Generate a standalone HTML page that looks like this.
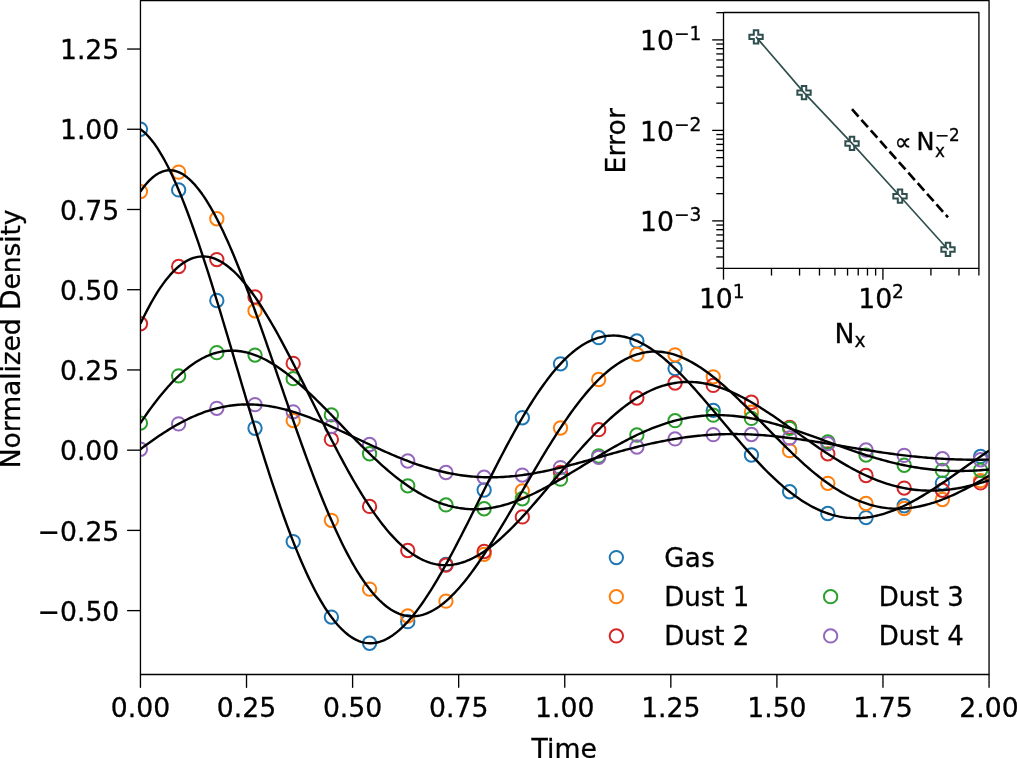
<!DOCTYPE html>
<html><head><meta charset="utf-8"><title>Normalized Density vs Time</title>
<style>html,body{margin:0;padding:0;background:#fff;}svg{display:block;}</style></head>
<body>
<svg width="1017" height="758" viewBox="0 0 1017 758" font-family="DejaVu Sans, Liberation Sans, sans-serif" font-size="26.67px" fill="#000" stroke="#000" stroke-width="0.3" stroke-linejoin="round">
<rect width="1017" height="758" fill="#fff" stroke="none"/>
<defs><clipPath id="ca"><rect x="140.45" y="0.6" width="848.5999999999999" height="673.9"/></clipPath></defs>
<g clip-path="url(#ca)" fill="none" stroke-width="2">
<g stroke="#1f77b4">
<circle cx="140.45" cy="129.26" r="6.67"/>
<circle cx="178.64" cy="189.95" r="6.67"/>
<circle cx="216.82" cy="300.48" r="6.67"/>
<circle cx="255.01" cy="428.22" r="6.67"/>
<circle cx="293.20" cy="541.60" r="6.67"/>
<circle cx="331.38" cy="617.06" r="6.67"/>
<circle cx="369.57" cy="643.24" r="6.67"/>
<circle cx="407.76" cy="621.67" r="6.67"/>
<circle cx="445.95" cy="564.46" r="6.67"/>
<circle cx="484.13" cy="489.98" r="6.67"/>
<circle cx="522.32" cy="417.76" r="6.67"/>
<circle cx="560.51" cy="363.82" r="6.67"/>
<circle cx="598.69" cy="337.64" r="6.67"/>
<circle cx="636.88" cy="340.94" r="6.67"/>
<circle cx="675.07" cy="368.52" r="6.67"/>
<circle cx="713.25" cy="410.45" r="6.67"/>
<circle cx="751.44" cy="455.03" r="6.67"/>
<circle cx="789.63" cy="491.76" r="6.67"/>
<circle cx="827.82" cy="513.49" r="6.67"/>
<circle cx="866.00" cy="517.57" r="6.67"/>
<circle cx="904.19" cy="505.74" r="6.67"/>
<circle cx="942.38" cy="483.10" r="6.67"/>
<circle cx="980.56" cy="456.41" r="6.67"/>
</g>
<g stroke="#ff7f0e">
<circle cx="140.45" cy="191.55" r="6.67"/>
<circle cx="178.64" cy="172.13" r="6.67"/>
<circle cx="216.82" cy="218.72" r="6.67"/>
<circle cx="255.01" cy="310.75" r="6.67"/>
<circle cx="293.20" cy="420.47" r="6.67"/>
<circle cx="331.38" cy="520.31" r="6.67"/>
<circle cx="369.57" cy="589.12" r="6.67"/>
<circle cx="407.76" cy="615.99" r="6.67"/>
<circle cx="445.95" cy="601.18" r="6.67"/>
<circle cx="484.13" cy="554.36" r="6.67"/>
<circle cx="522.32" cy="490.99" r="6.67"/>
<circle cx="560.51" cy="427.96" r="6.67"/>
<circle cx="598.69" cy="379.51" r="6.67"/>
<circle cx="636.88" cy="354.43" r="6.67"/>
<circle cx="675.07" cy="354.86" r="6.67"/>
<circle cx="713.25" cy="376.84" r="6.67"/>
<circle cx="751.44" cy="412.13" r="6.67"/>
<circle cx="789.63" cy="450.70" r="6.67"/>
<circle cx="827.82" cy="483.31" r="6.67"/>
<circle cx="866.00" cy="503.46" r="6.67"/>
<circle cx="904.19" cy="508.48" r="6.67"/>
<circle cx="942.38" cy="499.50" r="6.67"/>
<circle cx="980.56" cy="480.70" r="6.67"/>
</g>
<g stroke="#d62728">
<circle cx="140.45" cy="323.78" r="6.67"/>
<circle cx="178.64" cy="266.52" r="6.67"/>
<circle cx="216.82" cy="259.59" r="6.67"/>
<circle cx="255.01" cy="296.93" r="6.67"/>
<circle cx="293.20" cy="363.38" r="6.67"/>
<circle cx="331.38" cy="439.45" r="6.67"/>
<circle cx="369.57" cy="506.43" r="6.67"/>
<circle cx="407.76" cy="550.51" r="6.67"/>
<circle cx="445.95" cy="565.15" r="6.67"/>
<circle cx="484.13" cy="551.49" r="6.67"/>
<circle cx="522.32" cy="516.92" r="6.67"/>
<circle cx="560.51" cy="472.44" r="6.67"/>
<circle cx="598.69" cy="429.65" r="6.67"/>
<circle cx="636.88" cy="397.99" r="6.67"/>
<circle cx="675.07" cy="382.96" r="6.67"/>
<circle cx="713.25" cy="385.45" r="6.67"/>
<circle cx="751.44" cy="402.24" r="6.67"/>
<circle cx="789.63" cy="427.36" r="6.67"/>
<circle cx="827.82" cy="453.85" r="6.67"/>
<circle cx="866.00" cy="475.49" r="6.67"/>
<circle cx="904.19" cy="488.11" r="6.67"/>
<circle cx="942.38" cy="490.22" r="6.67"/>
<circle cx="980.56" cy="482.91" r="6.67"/>
</g>
<g stroke="#2ca02c">
<circle cx="140.45" cy="423.07" r="6.67"/>
<circle cx="178.64" cy="375.84" r="6.67"/>
<circle cx="216.82" cy="352.63" r="6.67"/>
<circle cx="255.01" cy="355.05" r="6.67"/>
<circle cx="293.20" cy="378.68" r="6.67"/>
<circle cx="331.38" cy="414.95" r="6.67"/>
<circle cx="369.57" cy="453.72" r="6.67"/>
<circle cx="407.76" cy="485.80" r="6.67"/>
<circle cx="445.95" cy="504.95" r="6.67"/>
<circle cx="484.13" cy="508.77" r="6.67"/>
<circle cx="522.32" cy="498.72" r="6.67"/>
<circle cx="560.51" cy="479.18" r="6.67"/>
<circle cx="598.69" cy="456.01" r="6.67"/>
<circle cx="636.88" cy="435.03" r="6.67"/>
<circle cx="675.07" cy="420.66" r="6.67"/>
<circle cx="713.25" cy="415.16" r="6.67"/>
<circle cx="751.44" cy="418.43" r="6.67"/>
<circle cx="789.63" cy="428.41" r="6.67"/>
<circle cx="827.82" cy="441.81" r="6.67"/>
<circle cx="866.00" cy="455.07" r="6.67"/>
<circle cx="904.19" cy="465.22" r="6.67"/>
<circle cx="942.38" cy="470.41" r="6.67"/>
<circle cx="980.56" cy="470.23" r="6.67"/>
</g>
<g stroke="#9467bd">
<circle cx="140.45" cy="449.23" r="6.67"/>
<circle cx="178.64" cy="423.88" r="6.67"/>
<circle cx="216.82" cy="408.33" r="6.67"/>
<circle cx="255.01" cy="404.63" r="6.67"/>
<circle cx="293.20" cy="411.81" r="6.67"/>
<circle cx="331.38" cy="426.61" r="6.67"/>
<circle cx="369.57" cy="444.51" r="6.67"/>
<circle cx="407.76" cy="460.98" r="6.67"/>
<circle cx="445.95" cy="472.51" r="6.67"/>
<circle cx="484.13" cy="477.22" r="6.67"/>
<circle cx="522.32" cy="475.08" r="6.67"/>
<circle cx="560.51" cy="467.62" r="6.67"/>
<circle cx="598.69" cy="457.32" r="6.67"/>
<circle cx="636.88" cy="446.97" r="6.67"/>
<circle cx="675.07" cy="438.90" r="6.67"/>
<circle cx="713.25" cy="434.62" r="6.67"/>
<circle cx="751.44" cy="434.51" r="6.67"/>
<circle cx="789.63" cy="437.96" r="6.67"/>
<circle cx="827.82" cy="443.67" r="6.67"/>
<circle cx="866.00" cy="449.98" r="6.67"/>
<circle cx="904.19" cy="455.38" r="6.67"/>
<circle cx="942.38" cy="458.78" r="6.67"/>
<circle cx="980.56" cy="459.71" r="6.67"/>
</g>
</g>
<g clip-path="url(#ca)" fill="none" stroke="#000" stroke-width="2.4" stroke-linejoin="round">
<polyline points="140.45,129.26 142.57,130.84 144.69,132.66 146.81,134.70 148.94,136.96 151.06,139.45 153.18,142.16 155.30,145.07 157.42,148.20 159.54,151.53 161.66,155.06 163.79,158.79 165.91,162.71 168.03,166.81 170.15,171.10 172.27,175.56 174.39,180.19 176.52,184.99 178.64,189.95 180.76,195.07 182.88,200.34 185.00,205.75 187.12,211.30 189.24,216.99 191.37,222.80 193.49,228.74 195.61,234.79 197.73,240.95 199.85,247.22 201.97,253.59 204.09,260.06 206.22,266.61 208.34,273.24 210.46,279.95 212.58,286.73 214.70,293.58 216.82,300.48 218.95,307.44 221.07,314.44 223.19,321.48 225.31,328.56 227.43,335.67 229.55,342.81 231.67,349.96 233.80,357.12 235.92,364.29 238.04,371.46 240.16,378.63 242.28,385.79 244.40,392.93 246.52,400.05 248.65,407.14 250.77,414.21 252.89,421.23 255.01,428.22 257.13,435.16 259.25,442.05 261.38,448.88 263.50,455.65 265.62,462.36 267.74,468.99 269.86,475.55 271.98,482.03 274.10,488.43 276.23,494.74 278.35,500.96 280.47,507.08 282.59,513.10 284.71,519.02 286.83,524.83 288.95,530.54 291.08,536.12 293.20,541.60 295.32,546.95 297.44,552.17 299.56,557.28 301.68,562.25 303.81,567.09 305.93,571.80 308.05,576.37 310.17,580.80 312.29,585.09 314.41,589.24 316.53,593.24 318.66,597.09 320.78,600.80 322.90,604.36 325.02,607.76 327.14,611.02 329.26,614.12 331.38,617.06 333.51,619.85 335.63,622.49 337.75,624.96 339.87,627.28 341.99,629.44 344.11,631.45 346.24,633.29 348.36,634.98 350.48,636.51 352.60,637.88 354.72,639.09 356.84,640.15 358.96,641.05 361.09,641.80 363.21,642.39 365.33,642.83 367.45,643.11 369.57,643.24 371.69,643.23 373.81,643.06 375.94,642.75 378.06,642.29 380.18,641.69 382.30,640.94 384.42,640.06 386.54,639.03 388.67,637.87 390.79,636.58 392.91,635.15 395.03,633.59 397.15,631.91 399.27,630.10 401.39,628.17 403.52,626.12 405.64,623.95 407.76,621.67 409.88,619.27 412.00,616.77 414.12,614.16 416.24,611.45 418.37,608.64 420.49,605.73 422.61,602.73 424.73,599.63 426.85,596.45 428.97,593.19 431.10,589.85 433.22,586.42 435.34,582.93 437.46,579.36 439.58,575.73 441.70,572.03 443.82,568.27 445.95,564.46 448.07,560.59 450.19,556.67 452.31,552.70 454.43,548.69 456.55,544.65 458.67,540.56 460.80,536.44 462.92,532.30 465.04,528.13 467.16,523.93 469.28,519.72 471.40,515.49 473.53,511.25 475.65,507.00 477.77,502.75 479.89,498.49 482.01,494.23 484.13,489.98 486.25,485.74 488.38,481.51 490.50,477.29 492.62,473.09 494.74,468.91 496.86,464.76 498.98,460.63 501.10,456.53 503.23,452.46 505.35,448.43 507.47,444.43 509.59,440.48 511.71,436.57 513.83,432.71 515.96,428.89 518.08,425.13 520.20,421.41 522.32,417.76 524.44,414.16 526.56,410.63 528.68,407.15 530.81,403.74 532.93,400.40 535.05,397.13 537.17,393.92 539.29,390.79 541.41,387.74 543.53,384.75 545.66,381.85 547.78,379.03 549.90,376.28 552.02,373.62 554.14,371.05 556.26,368.55 558.39,366.14 560.51,363.82 562.63,361.59 564.75,359.44 566.87,357.39 568.99,355.42 571.11,353.55 573.24,351.77 575.36,350.07 577.48,348.48 579.60,346.97 581.72,345.56 583.84,344.24 585.96,343.02 588.09,341.89 590.21,340.85 592.33,339.91 594.45,339.06 596.57,338.30 598.69,337.64 600.82,337.07 602.94,336.59 605.06,336.20 607.18,335.91 609.30,335.71 611.42,335.59 613.54,335.57 615.67,335.64 617.79,335.79 619.91,336.03 622.03,336.35 624.15,336.76 626.27,337.26 628.39,337.83 630.52,338.49 632.64,339.23 634.76,340.05 636.88,340.94 639.00,341.91 641.12,342.96 643.25,344.08 645.37,345.27 647.49,346.53 649.61,347.86 651.73,349.26 653.85,350.72 655.97,352.24 658.10,353.83 660.22,355.48 662.34,357.18 664.46,358.94 666.58,360.76 668.70,362.62 670.83,364.54 672.95,366.51 675.07,368.52 677.19,370.58 679.31,372.68 681.43,374.83 683.55,377.01 685.68,379.22 687.80,381.47 689.92,383.76 692.04,386.07 694.16,388.42 696.28,390.79 698.40,393.18 700.53,395.60 702.65,398.03 704.77,400.49 706.89,402.96 709.01,405.44 711.13,407.94 713.25,410.45 715.38,412.96 717.50,415.48 719.62,418.00 721.74,420.53 723.86,423.06 725.98,425.58 728.11,428.10 730.23,430.61 732.35,433.12 734.47,435.62 736.59,438.10 738.71,440.57 740.83,443.03 742.96,445.47 745.08,447.89 747.20,450.29 749.32,452.67 751.44,455.03 753.56,457.36 755.68,459.66 757.81,461.94 759.93,464.19 762.05,466.40 764.17,468.58 766.29,470.73 768.41,472.84 770.54,474.92 772.66,476.96 774.78,478.96 776.90,480.92 779.02,482.83 781.14,484.71 783.26,486.54 785.39,488.32 787.51,490.06 789.63,491.76 791.75,493.40 793.87,495.00 795.99,496.55 798.12,498.05 800.24,499.50 802.36,500.90 804.48,502.24 806.60,503.54 808.72,504.78 810.84,505.96 812.97,507.09 815.09,508.17 817.21,509.20 819.33,510.17 821.45,511.08 823.57,511.94 825.69,512.74 827.82,513.49 829.94,514.18 832.06,514.82 834.18,515.40 836.30,515.93 838.42,516.40 840.55,516.81 842.67,517.17 844.79,517.47 846.91,517.72 849.03,517.92 851.15,518.06 853.27,518.15 855.40,518.18 857.52,518.16 859.64,518.09 861.76,517.97 863.88,517.79 866.00,517.57 868.12,517.29 870.25,516.97 872.37,516.60 874.49,516.18 876.61,515.71 878.73,515.20 880.85,514.64 882.97,514.03 885.10,513.39 887.22,512.70 889.34,511.96 891.46,511.19 893.58,510.38 895.70,509.52 897.83,508.63 899.95,507.70 902.07,506.74 904.19,505.74 906.31,504.71 908.43,503.64 910.55,502.55 912.68,501.42 914.80,500.26 916.92,499.08 919.04,497.87 921.16,496.63 923.28,495.37 925.40,494.08 927.53,492.77 929.65,491.44 931.77,490.10 933.89,488.73 936.01,487.34 938.13,485.94 940.26,484.53 942.38,483.10 944.50,481.66 946.62,480.20 948.74,478.74 950.86,477.27 952.98,475.79 955.11,474.30 957.23,472.81 959.35,471.32 961.47,469.82 963.59,468.32 965.71,466.82 967.83,465.33 969.96,463.83 972.08,462.34 974.20,460.85 976.32,459.36 978.44,457.88 980.56,456.41 982.69,454.95 984.81,453.50 986.93,452.06 989.05,450.63"/>
<polyline points="140.45,191.55 142.57,188.55 144.69,185.78 146.81,183.23 148.94,180.92 151.06,178.84 153.18,176.98 155.30,175.36 157.42,173.95 159.54,172.78 161.66,171.83 163.79,171.10 165.91,170.60 168.03,170.31 170.15,170.25 172.27,170.40 174.39,170.76 176.52,171.34 178.64,172.13 180.76,173.12 182.88,174.32 185.00,175.72 187.12,177.32 189.24,179.12 191.37,181.11 193.49,183.29 195.61,185.65 197.73,188.20 199.85,190.93 201.97,193.83 204.09,196.90 206.22,200.14 208.34,203.55 210.46,207.11 212.58,210.83 214.70,214.70 216.82,218.72 218.95,222.87 221.07,227.17 223.19,231.60 225.31,236.16 227.43,240.84 229.55,245.64 231.67,250.55 233.80,255.58 235.92,260.71 238.04,265.93 240.16,271.26 242.28,276.67 244.40,282.17 246.52,287.74 248.65,293.40 250.77,299.12 252.89,304.90 255.01,310.75 257.13,316.65 259.25,322.60 261.38,328.59 263.50,334.63 265.62,340.69 267.74,346.79 269.86,352.91 271.98,359.05 274.10,365.21 276.23,371.37 278.35,377.54 280.47,383.71 282.59,389.88 284.71,396.03 286.83,402.17 288.95,408.30 291.08,414.40 293.20,420.47 295.32,426.51 297.44,432.51 299.56,438.47 301.68,444.39 303.81,450.26 305.93,456.07 308.05,461.83 310.17,467.52 312.29,473.15 314.41,478.72 316.53,484.21 318.66,489.62 320.78,494.95 322.90,500.20 325.02,505.37 327.14,510.44 329.26,515.42 331.38,520.31 333.51,525.10 335.63,529.78 337.75,534.37 339.87,538.84 341.99,543.21 344.11,547.46 346.24,551.61 348.36,555.63 350.48,559.54 352.60,563.33 354.72,567.00 356.84,570.54 358.96,573.96 361.09,577.25 363.21,580.41 365.33,583.44 367.45,586.35 369.57,589.12 371.69,591.76 373.81,594.27 375.94,596.64 378.06,598.88 380.18,600.98 382.30,602.95 384.42,604.78 386.54,606.48 388.67,608.04 390.79,609.46 392.91,610.75 395.03,611.90 397.15,612.92 399.27,613.80 401.39,614.55 403.52,615.16 405.64,615.64 407.76,615.99 409.88,616.21 412.00,616.30 414.12,616.26 416.24,616.09 418.37,615.79 420.49,615.37 422.61,614.83 424.73,614.16 426.85,613.38 428.97,612.47 431.10,611.45 433.22,610.31 435.34,609.06 437.46,607.70 439.58,606.23 441.70,604.65 443.82,602.97 445.95,601.18 448.07,599.30 450.19,597.31 452.31,595.23 454.43,593.06 456.55,590.80 458.67,588.45 460.80,586.01 462.92,583.49 465.04,580.89 467.16,578.21 469.28,575.46 471.40,572.64 473.53,569.75 475.65,566.79 477.77,563.77 479.89,560.69 482.01,557.55 484.13,554.36 486.25,551.12 488.38,547.82 490.50,544.49 492.62,541.11 494.74,537.69 496.86,534.23 498.98,530.74 501.10,527.22 503.23,523.67 505.35,520.10 507.47,516.51 509.59,512.89 511.71,509.27 513.83,505.62 515.96,501.97 518.08,498.32 520.20,494.66 522.32,490.99 524.44,487.33 526.56,483.68 528.68,480.03 530.81,476.39 532.93,472.77 535.05,469.16 537.17,465.56 539.29,461.99 541.41,458.44 543.53,454.92 545.66,451.43 547.78,447.97 549.90,444.54 552.02,441.14 554.14,437.78 556.26,434.47 558.39,431.19 560.51,427.96 562.63,424.78 564.75,421.64 566.87,418.56 568.99,415.53 571.11,412.55 573.24,409.63 575.36,406.76 577.48,403.96 579.60,401.22 581.72,398.54 583.84,395.92 585.96,393.37 588.09,390.88 590.21,388.47 592.33,386.12 594.45,383.85 596.57,381.64 598.69,379.51 600.82,377.46 602.94,375.48 605.06,373.57 607.18,371.74 609.30,369.99 611.42,368.31 613.54,366.71 615.67,365.20 617.79,363.76 619.91,362.40 622.03,361.12 624.15,359.92 626.27,358.81 628.39,357.77 630.52,356.81 632.64,355.94 634.76,355.14 636.88,354.43 639.00,353.79 641.12,353.24 643.25,352.77 645.37,352.37 647.49,352.06 649.61,351.82 651.73,351.66 653.85,351.58 655.97,351.57 658.10,351.64 660.22,351.79 662.34,352.01 664.46,352.31 666.58,352.68 668.70,353.12 670.83,353.63 672.95,354.21 675.07,354.86 677.19,355.57 679.31,356.36 681.43,357.21 683.55,358.12 685.68,359.09 687.80,360.13 689.92,361.23 692.04,362.38 694.16,363.60 696.28,364.86 698.40,366.19 700.53,367.56 702.65,368.99 704.77,370.47 706.89,371.99 709.01,373.56 711.13,375.18 713.25,376.84 715.38,378.54 717.50,380.28 719.62,382.06 721.74,383.87 723.86,385.72 725.98,387.61 728.11,389.52 730.23,391.46 732.35,393.44 734.47,395.43 736.59,397.45 738.71,399.50 740.83,401.56 742.96,403.64 745.08,405.74 747.20,407.86 749.32,409.99 751.44,412.13 753.56,414.28 755.68,416.43 757.81,418.60 759.93,420.77 762.05,422.94 764.17,425.11 766.29,427.29 768.41,429.46 770.54,431.62 772.66,433.79 774.78,435.94 776.90,438.09 779.02,440.22 781.14,442.35 783.26,444.46 785.39,446.55 787.51,448.63 789.63,450.70 791.75,452.74 793.87,454.76 795.99,456.76 798.12,458.74 800.24,460.69 802.36,462.62 804.48,464.52 806.60,466.39 808.72,468.24 810.84,470.05 812.97,471.83 815.09,473.57 817.21,475.29 819.33,476.96 821.45,478.61 823.57,480.21 825.69,481.78 827.82,483.31 829.94,484.80 832.06,486.25 834.18,487.65 836.30,489.02 838.42,490.34 840.55,491.63 842.67,492.86 844.79,494.06 846.91,495.20 849.03,496.31 851.15,497.37 853.27,498.38 855.40,499.34 857.52,500.26 859.64,501.13 861.76,501.96 863.88,502.73 866.00,503.46 868.12,504.14 870.25,504.78 872.37,505.36 874.49,505.90 876.61,506.39 878.73,506.83 880.85,507.23 882.97,507.57 885.10,507.87 887.22,508.13 889.34,508.33 891.46,508.49 893.58,508.60 895.70,508.67 897.83,508.69 899.95,508.66 902.07,508.59 904.19,508.48 906.31,508.32 908.43,508.12 910.55,507.87 912.68,507.58 914.80,507.25 916.92,506.88 919.04,506.47 921.16,506.02 923.28,505.53 925.40,505.01 927.53,504.44 929.65,503.84 931.77,503.20 933.89,502.53 936.01,501.82 938.13,501.08 940.26,500.31 942.38,499.50 944.50,498.67 946.62,497.80 948.74,496.91 950.86,495.99 952.98,495.04 955.11,494.06 957.23,493.06 959.35,492.04 961.47,490.99 963.59,489.92 965.71,488.83 967.83,487.72 969.96,486.59 972.08,485.45 974.20,484.28 976.32,483.10 978.44,481.91 980.56,480.70 982.69,479.48 984.81,478.25 986.93,477.01 989.05,475.75"/>
<polyline points="140.45,323.78 142.57,319.33 144.69,315.02 146.81,310.85 148.94,306.82 151.06,302.95 153.18,299.22 155.30,295.64 157.42,292.22 159.54,288.94 161.66,285.83 163.79,282.86 165.91,280.06 168.03,277.41 170.15,274.91 172.27,272.58 174.39,270.40 176.52,268.38 178.64,266.52 180.76,264.82 182.88,263.28 185.00,261.89 187.12,260.67 189.24,259.60 191.37,258.68 193.49,257.93 195.61,257.33 197.73,256.88 199.85,256.58 201.97,256.44 204.09,256.45 206.22,256.61 208.34,256.92 210.46,257.37 212.58,257.97 214.70,258.71 216.82,259.59 218.95,260.61 221.07,261.76 223.19,263.06 225.31,264.48 227.43,266.04 229.55,267.72 231.67,269.53 233.80,271.46 235.92,273.51 238.04,275.68 240.16,277.97 242.28,280.36 244.40,282.87 246.52,285.48 248.65,288.20 250.77,291.01 252.89,293.92 255.01,296.93 257.13,300.03 259.25,303.22 261.38,306.49 263.50,309.84 265.62,313.27 267.74,316.77 269.86,320.35 271.98,323.99 274.10,327.70 276.23,331.46 278.35,335.29 280.47,339.17 282.59,343.10 284.71,347.07 286.83,351.09 288.95,355.15 291.08,359.25 293.20,363.38 295.32,367.54 297.44,371.72 299.56,375.93 301.68,380.16 303.81,384.40 305.93,388.65 308.05,392.92 310.17,397.18 312.29,401.45 314.41,405.72 316.53,409.99 318.66,414.25 320.78,418.49 322.90,422.72 325.02,426.94 327.14,431.13 329.26,435.30 331.38,439.45 333.51,443.56 335.63,447.65 337.75,451.70 339.87,455.71 341.99,459.68 344.11,463.60 346.24,467.48 348.36,471.31 350.48,475.09 352.60,478.82 354.72,482.49 356.84,486.10 358.96,489.65 361.09,493.14 363.21,496.57 365.33,499.92 367.45,503.21 369.57,506.43 371.69,509.58 373.81,512.65 375.94,515.64 378.06,518.56 380.18,521.40 382.30,524.15 384.42,526.83 386.54,529.42 388.67,531.93 390.79,534.35 392.91,536.68 395.03,538.93 397.15,541.08 399.27,543.15 401.39,545.13 403.52,547.01 405.64,548.81 407.76,550.51 409.88,552.12 412.00,553.63 414.12,555.05 416.24,556.38 418.37,557.61 420.49,558.75 422.61,559.80 424.73,560.75 426.85,561.61 428.97,562.37 431.10,563.04 433.22,563.62 435.34,564.10 437.46,564.49 439.58,564.79 441.70,565.00 443.82,565.12 445.95,565.15 448.07,565.09 450.19,564.94 452.31,564.70 454.43,564.38 456.55,563.97 458.67,563.48 460.80,562.91 462.92,562.25 465.04,561.52 467.16,560.70 469.28,559.81 471.40,558.84 473.53,557.79 475.65,556.67 477.77,555.48 479.89,554.22 482.01,552.89 484.13,551.49 486.25,550.03 488.38,548.50 490.50,546.91 492.62,545.27 494.74,543.56 496.86,541.79 498.98,539.98 501.10,538.10 503.23,536.18 505.35,534.21 507.47,532.19 509.59,530.13 511.71,528.02 513.83,525.88 515.96,523.69 518.08,521.47 520.20,519.21 522.32,516.92 524.44,514.60 526.56,512.25 528.68,509.87 530.81,507.47 532.93,505.05 535.05,502.61 537.17,500.14 539.29,497.67 541.41,495.17 543.53,492.67 545.66,490.15 547.78,487.63 549.90,485.10 552.02,482.57 554.14,480.04 556.26,477.50 558.39,474.97 560.51,472.44 562.63,469.92 564.75,467.40 566.87,464.90 568.99,462.40 571.11,459.92 573.24,457.46 575.36,455.01 577.48,452.58 579.60,450.17 581.72,447.78 583.84,445.41 585.96,443.07 588.09,440.76 590.21,438.47 592.33,436.22 594.45,434.00 596.57,431.80 598.69,429.65 600.82,427.52 602.94,425.44 605.06,423.39 607.18,421.39 609.30,419.42 611.42,417.49 613.54,415.61 615.67,413.77 617.79,411.98 619.91,410.23 622.03,408.52 624.15,406.87 626.27,405.26 628.39,403.71 630.52,402.20 632.64,400.74 634.76,399.34 636.88,397.99 639.00,396.69 641.12,395.44 643.25,394.25 645.37,393.11 647.49,392.02 649.61,390.99 651.73,390.01 653.85,389.09 655.97,388.23 658.10,387.42 660.22,386.67 662.34,385.97 664.46,385.33 666.58,384.74 668.70,384.21 670.83,383.74 672.95,383.32 675.07,382.96 677.19,382.65 679.31,382.40 681.43,382.20 683.55,382.05 685.68,381.96 687.80,381.92 689.92,381.94 692.04,382.01 694.16,382.13 696.28,382.30 698.40,382.52 700.53,382.80 702.65,383.12 704.77,383.49 706.89,383.91 709.01,384.38 711.13,384.89 713.25,385.45 715.38,386.05 717.50,386.70 719.62,387.39 721.74,388.12 723.86,388.90 725.98,389.71 728.11,390.56 730.23,391.46 732.35,392.39 734.47,393.35 736.59,394.35 738.71,395.39 740.83,396.45 742.96,397.55 745.08,398.68 747.20,399.84 749.32,401.03 751.44,402.24 753.56,403.48 755.68,404.75 757.81,406.04 759.93,407.35 762.05,408.68 764.17,410.03 766.29,411.40 768.41,412.79 770.54,414.20 772.66,415.61 774.78,417.05 776.90,418.49 779.02,419.95 781.14,421.42 783.26,422.89 785.39,424.38 787.51,425.87 789.63,427.36 791.75,428.86 793.87,430.36 795.99,431.87 798.12,433.37 800.24,434.88 802.36,436.38 804.48,437.88 806.60,439.37 808.72,440.86 810.84,442.34 812.97,443.82 815.09,445.29 817.21,446.74 819.33,448.19 821.45,449.63 823.57,451.05 825.69,452.46 827.82,453.85 829.94,455.23 832.06,456.59 834.18,457.94 836.30,459.27 838.42,460.57 840.55,461.86 842.67,463.13 844.79,464.38 846.91,465.60 849.03,466.80 851.15,467.98 853.27,469.13 855.40,470.26 857.52,471.36 859.64,472.43 861.76,473.48 863.88,474.50 866.00,475.49 868.12,476.46 870.25,477.39 872.37,478.30 874.49,479.18 876.61,480.02 878.73,480.84 880.85,481.62 882.97,482.37 885.10,483.09 887.22,483.78 889.34,484.44 891.46,485.06 893.58,485.65 895.70,486.21 897.83,486.74 899.95,487.23 902.07,487.69 904.19,488.11 906.31,488.51 908.43,488.87 910.55,489.19 912.68,489.49 914.80,489.75 916.92,489.98 919.04,490.17 921.16,490.34 923.28,490.47 925.40,490.56 927.53,490.63 929.65,490.66 931.77,490.67 933.89,490.64 936.01,490.58 938.13,490.49 940.26,490.37 942.38,490.22 944.50,490.04 946.62,489.83 948.74,489.59 950.86,489.32 952.98,489.03 955.11,488.71 957.23,488.36 959.35,487.98 961.47,487.58 963.59,487.16 965.71,486.71 967.83,486.23 969.96,485.73 972.08,485.21 974.20,484.67 976.32,484.11 978.44,483.52 980.56,482.91 982.69,482.29 984.81,481.64 986.93,480.98 989.05,480.30"/>
<polyline points="140.45,423.07 142.57,419.93 144.69,416.84 146.81,413.80 148.94,410.82 151.06,407.90 153.18,405.04 155.30,402.24 157.42,399.50 159.54,396.82 161.66,394.21 163.79,391.67 165.91,389.19 168.03,386.79 170.15,384.45 172.27,382.19 174.39,380.00 176.52,377.88 178.64,375.84 180.76,373.88 182.88,371.99 185.00,370.18 187.12,368.45 189.24,366.79 191.37,365.22 193.49,363.72 195.61,362.31 197.73,360.97 199.85,359.72 201.97,358.55 204.09,357.46 206.22,356.45 208.34,355.52 210.46,354.68 212.58,353.91 214.70,353.23 216.82,352.63 218.95,352.11 221.07,351.66 223.19,351.30 225.31,351.02 227.43,350.82 229.55,350.70 231.67,350.65 233.80,350.68 235.92,350.79 238.04,350.97 240.16,351.23 242.28,351.56 244.40,351.97 246.52,352.44 248.65,352.99 250.77,353.61 252.89,354.30 255.01,355.05 257.13,355.87 259.25,356.76 261.38,357.71 263.50,358.72 265.62,359.80 267.74,360.93 269.86,362.13 271.98,363.38 274.10,364.68 276.23,366.05 278.35,367.46 280.47,368.92 282.59,370.43 284.71,372.00 286.83,373.60 288.95,375.25 291.08,376.95 293.20,378.68 295.32,380.46 297.44,382.27 299.56,384.12 301.68,386.00 303.81,387.92 305.93,389.86 308.05,391.84 310.17,393.84 312.29,395.87 314.41,397.92 316.53,399.99 318.66,402.08 320.78,404.19 322.90,406.32 325.02,408.46 327.14,410.61 329.26,412.78 331.38,414.95 333.51,417.13 335.63,419.32 337.75,421.51 339.87,423.70 341.99,425.90 344.11,428.09 346.24,430.28 348.36,432.47 350.48,434.64 352.60,436.82 354.72,438.98 356.84,441.13 358.96,443.27 361.09,445.39 363.21,447.50 365.33,449.59 367.45,451.66 369.57,453.72 371.69,455.75 373.81,457.76 375.94,459.74 378.06,461.70 380.18,463.63 382.30,465.54 384.42,467.41 386.54,469.26 388.67,471.07 390.79,472.85 392.91,474.60 395.03,476.31 397.15,477.99 399.27,479.63 401.39,481.23 403.52,482.79 405.64,484.32 407.76,485.80 409.88,487.25 412.00,488.65 414.12,490.01 416.24,491.32 418.37,492.60 420.49,493.82 422.61,495.01 424.73,496.15 426.85,497.24 428.97,498.28 431.10,499.28 433.22,500.24 435.34,501.14 437.46,502.00 439.58,502.81 441.70,503.57 443.82,504.28 445.95,504.95 448.07,505.57 450.19,506.13 452.31,506.65 454.43,507.13 456.55,507.55 458.67,507.93 460.80,508.25 462.92,508.53 465.04,508.77 467.16,508.95 469.28,509.09 471.40,509.18 473.53,509.23 475.65,509.22 477.77,509.18 479.89,509.09 482.01,508.95 484.13,508.77 486.25,508.54 488.38,508.28 490.50,507.97 492.62,507.62 494.74,507.22 496.86,506.79 498.98,506.32 501.10,505.81 503.23,505.26 505.35,504.67 507.47,504.05 509.59,503.38 511.71,502.69 513.83,501.96 515.96,501.20 518.08,500.40 520.20,499.58 522.32,498.72 524.44,497.83 526.56,496.92 528.68,495.97 530.81,495.00 532.93,494.01 535.05,492.98 537.17,491.94 539.29,490.87 541.41,489.78 543.53,488.67 545.66,487.54 547.78,486.40 549.90,485.23 552.02,484.05 554.14,482.85 556.26,481.64 558.39,480.41 560.51,479.18 562.63,477.93 564.75,476.67 566.87,475.40 568.99,474.13 571.11,472.84 573.24,471.56 575.36,470.26 577.48,468.97 579.60,467.67 581.72,466.37 583.84,465.06 585.96,463.76 588.09,462.46 590.21,461.16 592.33,459.87 594.45,458.58 596.57,457.29 598.69,456.01 600.82,454.74 602.94,453.48 605.06,452.22 607.18,450.98 609.30,449.74 611.42,448.52 613.54,447.31 615.67,446.11 617.79,444.93 619.91,443.76 622.03,442.61 624.15,441.47 626.27,440.35 628.39,439.25 630.52,438.17 632.64,437.10 634.76,436.06 636.88,435.03 639.00,434.03 641.12,433.05 643.25,432.09 645.37,431.15 647.49,430.24 649.61,429.35 651.73,428.48 653.85,427.64 655.97,426.82 658.10,426.03 660.22,425.27 662.34,424.53 664.46,423.82 666.58,423.13 668.70,422.47 670.83,421.84 672.95,421.24 675.07,420.66 677.19,420.11 679.31,419.59 681.43,419.10 683.55,418.64 685.68,418.21 687.80,417.80 689.92,417.42 692.04,417.07 694.16,416.75 696.28,416.46 698.40,416.20 700.53,415.97 702.65,415.76 704.77,415.59 706.89,415.44 709.01,415.32 711.13,415.22 713.25,415.16 715.38,415.12 717.50,415.11 719.62,415.13 721.74,415.17 723.86,415.25 725.98,415.34 728.11,415.47 730.23,415.61 732.35,415.79 734.47,415.99 736.59,416.21 738.71,416.46 740.83,416.73 742.96,417.03 745.08,417.34 747.20,417.68 749.32,418.05 751.44,418.43 753.56,418.84 755.68,419.26 757.81,419.71 759.93,420.17 762.05,420.65 764.17,421.16 766.29,421.68 768.41,422.21 770.54,422.77 772.66,423.34 774.78,423.92 776.90,424.52 779.02,425.14 781.14,425.77 783.26,426.41 785.39,427.06 787.51,427.73 789.63,428.41 791.75,429.09 793.87,429.79 795.99,430.50 798.12,431.21 800.24,431.94 802.36,432.67 804.48,433.41 806.60,434.15 808.72,434.90 810.84,435.66 812.97,436.42 815.09,437.18 817.21,437.95 819.33,438.72 821.45,439.49 823.57,440.26 825.69,441.03 827.82,441.81 829.94,442.58 832.06,443.35 834.18,444.12 836.30,444.88 838.42,445.65 840.55,446.41 842.67,447.17 844.79,447.92 846.91,448.66 849.03,449.41 851.15,450.14 853.27,450.87 855.40,451.59 857.52,452.30 859.64,453.01 861.76,453.71 863.88,454.39 866.00,455.07 868.12,455.74 870.25,456.40 872.37,457.05 874.49,457.68 876.61,458.31 878.73,458.92 880.85,459.52 882.97,460.11 885.10,460.68 887.22,461.24 889.34,461.79 891.46,462.32 893.58,462.84 895.70,463.35 897.83,463.84 899.95,464.31 902.07,464.77 904.19,465.22 906.31,465.65 908.43,466.06 910.55,466.46 912.68,466.84 914.80,467.20 916.92,467.55 919.04,467.88 921.16,468.20 923.28,468.49 925.40,468.78 927.53,469.04 929.65,469.29 931.77,469.52 933.89,469.73 936.01,469.93 938.13,470.11 940.26,470.27 942.38,470.41 944.50,470.54 946.62,470.65 948.74,470.75 950.86,470.83 952.98,470.89 955.11,470.93 957.23,470.96 959.35,470.97 961.47,470.97 963.59,470.95 965.71,470.91 967.83,470.86 969.96,470.79 972.08,470.71 974.20,470.61 976.32,470.50 978.44,470.37 980.56,470.23 982.69,470.07 984.81,469.90 986.93,469.72 989.05,469.52"/>
<polyline points="140.45,449.23 142.57,447.64 144.69,446.07 146.81,444.51 148.94,442.97 151.06,441.45 153.18,439.95 155.30,438.47 157.42,437.02 159.54,435.58 161.66,434.17 163.79,432.79 165.91,431.44 168.03,430.11 170.15,428.80 172.27,427.53 174.39,426.28 176.52,425.07 178.64,423.88 180.76,422.73 182.88,421.61 185.00,420.52 187.12,419.46 189.24,418.43 191.37,417.44 193.49,416.49 195.61,415.57 197.73,414.68 199.85,413.83 201.97,413.01 204.09,412.24 206.22,411.49 208.34,410.79 210.46,410.12 212.58,409.49 214.70,408.89 216.82,408.33 218.95,407.81 221.07,407.33 223.19,406.88 225.31,406.47 227.43,406.10 229.55,405.77 231.67,405.47 233.80,405.22 235.92,404.99 238.04,404.81 240.16,404.66 242.28,404.55 244.40,404.47 246.52,404.43 248.65,404.43 250.77,404.46 252.89,404.53 255.01,404.63 257.13,404.76 259.25,404.93 261.38,405.13 263.50,405.37 265.62,405.63 267.74,405.93 269.86,406.27 271.98,406.63 274.10,407.02 276.23,407.44 278.35,407.89 280.47,408.37 282.59,408.88 284.71,409.41 286.83,409.97 288.95,410.56 291.08,411.17 293.20,411.81 295.32,412.47 297.44,413.16 299.56,413.86 301.68,414.59 303.81,415.34 305.93,416.11 308.05,416.89 310.17,417.70 312.29,418.53 314.41,419.37 316.53,420.22 318.66,421.10 320.78,421.98 322.90,422.88 325.02,423.80 327.14,424.72 329.26,425.66 331.38,426.61 333.51,427.56 335.63,428.53 337.75,429.50 339.87,430.48 341.99,431.47 344.11,432.46 346.24,433.46 348.36,434.46 350.48,435.47 352.60,436.47 354.72,437.48 356.84,438.49 358.96,439.50 361.09,440.50 363.21,441.51 365.33,442.51 367.45,443.51 369.57,444.51 371.69,445.50 373.81,446.48 375.94,447.46 378.06,448.44 380.18,449.40 382.30,450.36 384.42,451.31 386.54,452.25 388.67,453.18 390.79,454.09 392.91,455.00 395.03,455.90 397.15,456.78 399.27,457.65 401.39,458.50 403.52,459.34 405.64,460.17 407.76,460.98 409.88,461.78 412.00,462.56 414.12,463.32 416.24,464.06 418.37,464.79 420.49,465.50 422.61,466.19 424.73,466.87 426.85,467.52 428.97,468.16 431.10,468.77 433.22,469.37 435.34,469.94 437.46,470.50 439.58,471.03 441.70,471.54 443.82,472.04 445.95,472.51 448.07,472.96 450.19,473.38 452.31,473.79 454.43,474.17 456.55,474.53 458.67,474.87 460.80,475.19 462.92,475.49 465.04,475.76 467.16,476.01 469.28,476.24 471.40,476.44 473.53,476.63 475.65,476.79 477.77,476.93 479.89,477.05 482.01,477.14 484.13,477.22 486.25,477.27 488.38,477.30 490.50,477.31 492.62,477.30 494.74,477.27 496.86,477.22 498.98,477.15 501.10,477.05 503.23,476.94 505.35,476.81 507.47,476.66 509.59,476.49 511.71,476.30 513.83,476.09 515.96,475.87 518.08,475.62 520.20,475.36 522.32,475.08 524.44,474.79 526.56,474.48 528.68,474.15 530.81,473.81 532.93,473.45 535.05,473.08 537.17,472.69 539.29,472.29 541.41,471.87 543.53,471.45 545.66,471.01 547.78,470.56 549.90,470.09 552.02,469.62 554.14,469.13 556.26,468.64 558.39,468.13 560.51,467.62 562.63,467.09 564.75,466.56 566.87,466.02 568.99,465.48 571.11,464.92 573.24,464.36 575.36,463.80 577.48,463.23 579.60,462.65 581.72,462.07 583.84,461.48 585.96,460.90 588.09,460.31 590.21,459.71 592.33,459.12 594.45,458.52 596.57,457.92 598.69,457.32 600.82,456.73 602.94,456.13 605.06,455.53 607.18,454.93 609.30,454.34 611.42,453.75 613.54,453.16 615.67,452.57 617.79,451.99 619.91,451.41 622.03,450.84 624.15,450.27 626.27,449.70 628.39,449.14 630.52,448.59 632.64,448.04 634.76,447.50 636.88,446.97 639.00,446.44 641.12,445.92 643.25,445.41 645.37,444.91 647.49,444.41 649.61,443.93 651.73,443.45 653.85,442.99 655.97,442.53 658.10,442.09 660.22,441.65 662.34,441.22 664.46,440.81 666.58,440.40 668.70,440.01 670.83,439.63 672.95,439.26 675.07,438.90 677.19,438.56 679.31,438.22 681.43,437.90 683.55,437.59 685.68,437.30 687.80,437.01 689.92,436.74 692.04,436.48 694.16,436.24 696.28,436.00 698.40,435.78 700.53,435.58 702.65,435.39 704.77,435.20 706.89,435.04 709.01,434.88 711.13,434.74 713.25,434.62 715.38,434.50 717.50,434.40 719.62,434.31 721.74,434.24 723.86,434.18 725.98,434.13 728.11,434.09 730.23,434.07 732.35,434.06 734.47,434.06 736.59,434.07 738.71,434.10 740.83,434.14 742.96,434.19 745.08,434.25 747.20,434.32 749.32,434.41 751.44,434.51 753.56,434.61 755.68,434.73 757.81,434.86 759.93,435.00 762.05,435.15 764.17,435.32 766.29,435.49 768.41,435.67 770.54,435.86 772.66,436.06 774.78,436.27 776.90,436.49 779.02,436.71 781.14,436.95 783.26,437.19 785.39,437.44 787.51,437.70 789.63,437.96 791.75,438.24 793.87,438.52 795.99,438.80 798.12,439.09 800.24,439.39 802.36,439.69 804.48,440.00 806.60,440.32 808.72,440.63 810.84,440.96 812.97,441.28 815.09,441.62 817.21,441.95 819.33,442.29 821.45,442.63 823.57,442.97 825.69,443.32 827.82,443.67 829.94,444.02 832.06,444.37 834.18,444.72 836.30,445.07 838.42,445.43 840.55,445.78 842.67,446.14 844.79,446.49 846.91,446.85 849.03,447.20 851.15,447.56 853.27,447.91 855.40,448.26 857.52,448.61 859.64,448.95 861.76,449.30 863.88,449.64 866.00,449.98 868.12,450.32 870.25,450.65 872.37,450.98 874.49,451.31 876.61,451.63 878.73,451.95 880.85,452.26 882.97,452.57 885.10,452.87 887.22,453.18 889.34,453.47 891.46,453.76 893.58,454.04 895.70,454.32 897.83,454.60 899.95,454.86 902.07,455.12 904.19,455.38 906.31,455.63 908.43,455.87 910.55,456.11 912.68,456.33 914.80,456.56 916.92,456.77 919.04,456.98 921.16,457.18 923.28,457.37 925.40,457.56 927.53,457.74 929.65,457.91 931.77,458.07 933.89,458.23 936.01,458.38 938.13,458.52 940.26,458.65 942.38,458.78 944.50,458.90 946.62,459.01 948.74,459.11 950.86,459.20 952.98,459.29 955.11,459.37 957.23,459.44 959.35,459.50 961.47,459.56 963.59,459.60 965.71,459.64 967.83,459.68 969.96,459.70 972.08,459.72 974.20,459.73 976.32,459.73 978.44,459.72 980.56,459.71 982.69,459.69 984.81,459.66 986.93,459.63 989.05,459.59"/>
</g>
<rect x="140.45" y="0.6" width="848.5999999999999" height="673.9" fill="none" stroke="#000" stroke-width="1.33"/>
<g stroke="#000" stroke-width="1.33">
<line x1="140.45" y1="674.5" x2="140.45" y2="687.85"/>
<line x1="246.52" y1="674.5" x2="246.52" y2="687.85"/>
<line x1="352.60" y1="674.5" x2="352.60" y2="687.85"/>
<line x1="458.67" y1="674.5" x2="458.67" y2="687.85"/>
<line x1="564.75" y1="674.5" x2="564.75" y2="687.85"/>
<line x1="670.83" y1="674.5" x2="670.83" y2="687.85"/>
<line x1="776.90" y1="674.5" x2="776.90" y2="687.85"/>
<line x1="882.97" y1="674.5" x2="882.97" y2="687.85"/>
<line x1="989.05" y1="674.5" x2="989.05" y2="687.85"/>
<line x1="140.45" y1="610.62" x2="127.1" y2="610.62"/>
<line x1="140.45" y1="530.39" x2="127.1" y2="530.39"/>
<line x1="140.45" y1="450.17" x2="127.1" y2="450.17"/>
<line x1="140.45" y1="369.94" x2="127.1" y2="369.94"/>
<line x1="140.45" y1="289.71" x2="127.1" y2="289.71"/>
<line x1="140.45" y1="209.49" x2="127.1" y2="209.49"/>
<line x1="140.45" y1="129.26" x2="127.1" y2="129.26"/>
<line x1="140.45" y1="49.04" x2="127.1" y2="49.04"/>
</g>
<g text-anchor="middle">
<text x="140.45" y="716.6">0.00</text>
<text x="246.52" y="716.6">0.25</text>
<text x="352.60" y="716.6">0.50</text>
<text x="458.67" y="716.6">0.75</text>
<text x="564.75" y="716.6">1.00</text>
<text x="670.83" y="716.6">1.25</text>
<text x="776.90" y="716.6">1.50</text>
<text x="882.97" y="716.6">1.75</text>
<text x="989.05" y="716.6">2.00</text>
</g>
<g text-anchor="end">
<text x="119.3" y="620.77">−0.50</text>
<text x="119.3" y="540.54">−0.25</text>
<text x="119.3" y="460.32">0.00</text>
<text x="119.3" y="380.09">0.25</text>
<text x="119.3" y="299.86">0.50</text>
<text x="119.3" y="219.64">0.75</text>
<text x="119.3" y="139.41">1.00</text>
<text x="119.3" y="59.19">1.25</text>
</g>
<text x="564.2" y="757.6" text-anchor="middle">Time</text>
<text transform="translate(20.2,338.9) rotate(-90)" text-anchor="middle" letter-spacing="-0.13">Normalized Density</text>
<circle cx="616.33" cy="557.56" r="6.67" fill="none" stroke="#1f77b4" stroke-width="2"/>
<text x="664.2" y="567.0999999999999" font-size="26.0px" letter-spacing="0.45">Gas</text>
<circle cx="616.33" cy="596.7" r="6.67" fill="none" stroke="#ff7f0e" stroke-width="2"/>
<text x="664.2" y="605.5999999999999" font-size="26.0px">Dust 1</text>
<circle cx="616.33" cy="635.9" r="6.67" fill="none" stroke="#d62728" stroke-width="2"/>
<text x="664.2" y="644.8" font-size="26.0px">Dust 2</text>
<circle cx="830.6" cy="596.7" r="6.67" fill="none" stroke="#2ca02c" stroke-width="2"/>
<text x="878.7" y="605.5999999999999" font-size="26.0px">Dust 3</text>
<circle cx="830.6" cy="635.9" r="6.67" fill="none" stroke="#9467bd" stroke-width="2"/>
<text x="878.7" y="644.8" font-size="26.0px">Dust 4</text>
<rect x="723.5" y="12.5" width="255.39999999999998" height="255.87" fill="#fff" stroke="none"/>
<polyline points="756.04,36.90 804.03,92.64 852.02,143.43 900.01,196.20 948.00,249.46" fill="none" stroke="#2f4f4f" stroke-width="1.67"/>
<path d="M753.82 30.23 L758.26 30.23 L758.26 34.68 L762.71 34.68 L762.71 39.12 L758.26 39.12 L758.26 43.56 L753.82 43.56 L753.82 39.12 L749.38 39.12 L749.38 34.68 L753.82 34.68Z" fill="none" stroke="#2f4f4f" stroke-width="2" stroke-linejoin="miter"/>
<path d="M801.81 85.97 L806.25 85.97 L806.25 90.42 L810.70 90.42 L810.70 94.86 L806.25 94.86 L806.25 99.31 L801.81 99.31 L801.81 94.86 L797.37 94.86 L797.37 90.42 L801.81 90.42Z" fill="none" stroke="#2f4f4f" stroke-width="2" stroke-linejoin="miter"/>
<path d="M849.80 136.77 L854.24 136.77 L854.24 141.21 L858.69 141.21 L858.69 145.65 L854.24 145.65 L854.24 150.09 L849.80 150.09 L849.80 145.65 L845.36 145.65 L845.36 141.21 L849.80 141.21Z" fill="none" stroke="#2f4f4f" stroke-width="2" stroke-linejoin="miter"/>
<path d="M897.79 189.53 L902.23 189.53 L902.23 193.98 L906.68 193.98 L906.68 198.42 L902.23 198.42 L902.23 202.86 L897.79 202.86 L897.79 198.42 L893.35 198.42 L893.35 193.98 L897.79 193.98Z" fill="none" stroke="#2f4f4f" stroke-width="2" stroke-linejoin="miter"/>
<path d="M945.78 242.80 L950.22 242.80 L950.22 247.24 L954.67 247.24 L954.67 251.68 L950.22 251.68 L950.22 256.12 L945.78 256.12 L945.78 251.68 L941.34 251.68 L941.34 247.24 L945.78 247.24Z" fill="none" stroke="#2f4f4f" stroke-width="2" stroke-linejoin="miter"/>
<line x1="852" y1="109.2" x2="948" y2="217.4" stroke="#000" stroke-width="2.67" stroke-dasharray="9.87 4.27"/>
<rect x="723.5" y="12.5" width="255.39999999999998" height="255.87" fill="none" stroke="#000" stroke-width="1.33"/>
<g stroke="#000" stroke-width="1.33">
<line x1="723.50" y1="268.37" x2="723.50" y2="279.67"/>
<line x1="882.92" y1="268.37" x2="882.92" y2="279.67"/>
<line x1="771.49" y1="268.37" x2="771.49" y2="275.57"/>
<line x1="799.56" y1="268.37" x2="799.56" y2="275.57"/>
<line x1="819.48" y1="268.37" x2="819.48" y2="275.57"/>
<line x1="834.93" y1="268.37" x2="834.93" y2="275.57"/>
<line x1="847.55" y1="268.37" x2="847.55" y2="275.57"/>
<line x1="858.23" y1="268.37" x2="858.23" y2="275.57"/>
<line x1="867.47" y1="268.37" x2="867.47" y2="275.57"/>
<line x1="875.63" y1="268.37" x2="875.63" y2="275.57"/>
<line x1="930.91" y1="268.37" x2="930.91" y2="275.57"/>
<line x1="958.98" y1="268.37" x2="958.98" y2="275.57"/>
<line x1="978.90" y1="268.37" x2="978.90" y2="275.57"/>
<line x1="723.5" y1="39.90" x2="712.2" y2="39.90"/>
<line x1="723.5" y1="130.40" x2="712.2" y2="130.40"/>
<line x1="723.5" y1="220.90" x2="712.2" y2="220.90"/>
<line x1="723.5" y1="12.66" x2="716.3" y2="12.66"/>
<line x1="723.5" y1="103.16" x2="716.3" y2="103.16"/>
<line x1="723.5" y1="87.22" x2="716.3" y2="87.22"/>
<line x1="723.5" y1="75.91" x2="716.3" y2="75.91"/>
<line x1="723.5" y1="67.14" x2="716.3" y2="67.14"/>
<line x1="723.5" y1="59.98" x2="716.3" y2="59.98"/>
<line x1="723.5" y1="53.92" x2="716.3" y2="53.92"/>
<line x1="723.5" y1="48.67" x2="716.3" y2="48.67"/>
<line x1="723.5" y1="44.04" x2="716.3" y2="44.04"/>
<line x1="723.5" y1="193.66" x2="716.3" y2="193.66"/>
<line x1="723.5" y1="177.72" x2="716.3" y2="177.72"/>
<line x1="723.5" y1="166.41" x2="716.3" y2="166.41"/>
<line x1="723.5" y1="157.64" x2="716.3" y2="157.64"/>
<line x1="723.5" y1="150.48" x2="716.3" y2="150.48"/>
<line x1="723.5" y1="144.42" x2="716.3" y2="144.42"/>
<line x1="723.5" y1="139.17" x2="716.3" y2="139.17"/>
<line x1="723.5" y1="134.54" x2="716.3" y2="134.54"/>
<line x1="723.5" y1="268.22" x2="716.3" y2="268.22"/>
<line x1="723.5" y1="256.91" x2="716.3" y2="256.91"/>
<line x1="723.5" y1="248.14" x2="716.3" y2="248.14"/>
<line x1="723.5" y1="240.98" x2="716.3" y2="240.98"/>
<line x1="723.5" y1="234.92" x2="716.3" y2="234.92"/>
<line x1="723.5" y1="229.67" x2="716.3" y2="229.67"/>
<line x1="723.5" y1="225.04" x2="716.3" y2="225.04"/>
</g>
<text x="640.0" y="50.40">10<tspan dy="-10.3" font-size="18.67px">−1</tspan></text>
<text x="640.0" y="140.90">10<tspan dy="-10.3" font-size="18.67px">−2</tspan></text>
<text x="640.0" y="231.40">10<tspan dy="-10.3" font-size="18.67px">−3</tspan></text>
<text x="698.9" y="307.8">10<tspan dy="-10.15" font-size="18.67px">1</tspan></text>
<text x="858.2" y="307.8">10<tspan dy="-10.15" font-size="18.67px">2</tspan></text>
<text x="834.5" y="342.6">N<tspan dy="4.1" font-size="18.67px">x</tspan></text>
<text transform="translate(625.0,140.7) rotate(-90)" text-anchor="middle" letter-spacing="0.15">Error</text>
<text x="894.6" y="150.36" font-size="24.0px">∝</text>
<text x="916.5" y="150.36" font-size="24.0px">N</text>
<text x="935.1" y="156.9" font-size="16.80px">x</text>
<text x="934.9" y="141.1" font-size="16.80px">−2</text>
</svg>
</body></html>
